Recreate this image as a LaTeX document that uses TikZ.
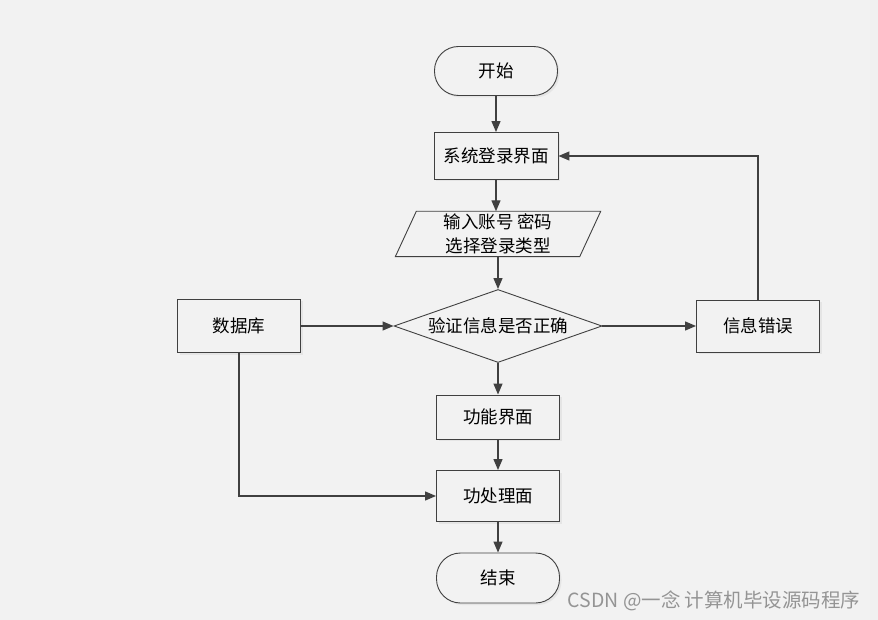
\documentclass[tikz,border=0pt]{standalone}
\usepackage{fontspec}
\newfontfamily\cjk{Noto Sans CJK SC}
\usetikzlibrary{arrows.meta,shapes.geometric,shadows}

\definecolor{bgray}{HTML}{F2F2F2}
\definecolor{lgray}{HTML}{404040}

\begin{document}
\begin{tikzpicture}[x=1pt,y=-1pt,
	font=\cjk\fontsize{17.5}{24}\selectfont,
	box/.style={draw=lgray,line width=0.9pt,fill=bgray,inner sep=0pt,
		minimum width=123pt,minimum height=47pt,
		drop shadow={shadow xshift=2pt,shadow yshift=-2pt,fill=black!10,opacity=1}},
	term/.style={box,rounded corners=24pt,minimum height=49pt},
	decide/.style={diamond,draw=lgray,line width=0.9pt,fill=bgray,inner sep=0pt,
		aspect=2.85,minimum width=208pt,minimum height=73pt},
	line/.style={draw=lgray,line width=1.3pt},
	arr/.style={line,-{Triangle[length=11pt,width=9pt]}}]
	\fill[bgray] (0,0) rectangle (878,620);
	\fill[black!6] (870,0) rectangle (878,620);
	\useasboundingbox (0,0) rectangle (878,620);

	\node[term] (start) at (496,71) {开始};
	\node[box,minimum width=124pt] (login) at (496,156) {系统登录界面};
	\node[inner sep=0pt,minimum width=163pt,minimum height=45pt,align=center] (input) at (498,234) {输入账号 密码\\选择登录类型};
	\draw[lgray,line width=0.9pt] (input.north west) -- ([xshift=21pt]input.north east)
		-- (input.south east) -- ([xshift=-21pt]input.south west) -- cycle;
	\node[decide] (check) at (498,326) {验证信息是否正确};
	\node[box,minimum height=53pt] (db) at (239,326) {数据库};
	\node[box,minimum height=52pt] (err) at (758,326) {信息错误};
	\node[box,minimum height=44pt] (func) at (498,417) {功能界面};
	\node[box,minimum height=51pt] (proc) at (498,496) {功处理面};
	\node[term,minimum height=50pt] (stop) at (498,578) {结束};

	\draw[arr] (start) -- (login);
	\draw[arr] (login.south) -- (login.south |- input.north);
	\draw[arr] (input.south -| check.north) -- (check.north);
	\draw[arr] (db) -- (check);
	\draw[arr] (check) -- (err);
	\draw[arr] (err.north) |- (login.east);
	\draw[arr] (check) -- (func);
	\draw[arr] (func) -- (proc);
	\draw[arr] (db.south) |- (proc.west);
	\draw[arr] (proc) -- (stop);

	\node[text=black!42,font=\cjk\fontsize{19.5}{22}\selectfont] (mark) at (714,601) {CSDN @一念 计算机毕设源码程序};
\end{tikzpicture}
\end{document}
